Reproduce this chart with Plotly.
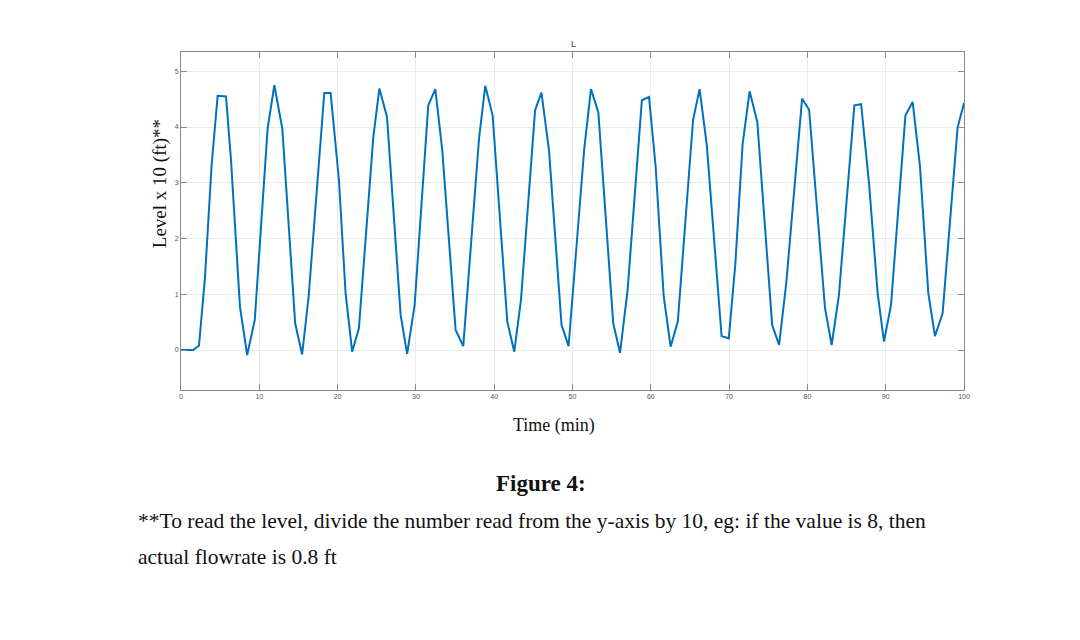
import plotly.graph_objects as go

# Data (time in min, level x 10 ft)
time_min = [0, 1.57, 2.30, 3.06, 3.91, 4.68, 5.75, 6.39, 7.53, 8.45, 9.42, 11.06, 11.92, 12.94,
            14.58, 15.47, 16.3, 18.3, 19.11, 20.17, 21.02, 21.86, 22.72, 24.56, 25.33, 26.31,
            28.05, 28.88, 29.84, 31.58, 32.48, 33.37, 35.07, 36.05, 38.06, 38.86, 39.8, 41.67,
            42.56, 43.42, 45.22, 46.03, 47.0, 48.6, 49.5, 51.5, 52.36, 53.3, 55.2, 56.07, 57.04,
            58.86, 59.77, 60.62, 61.65, 62.53, 63.45, 65.4, 66.23, 67.15, 69.04, 69.96, 70.8,
            71.73, 72.62, 73.6, 75.5, 76.38, 77.3, 79.32, 80.22, 82.25, 83.1, 84.02, 86.0, 86.86,
            87.87, 88.97, 89.78, 90.68, 92.52, 93.44, 94.38, 95.44, 96.29, 97.27, 99.18, 100.0]
level = [0, 0, 0.08, 1.3, 3.32, 4.56, 4.55, 3.4, 0.78, -0.09, 0.54, 3.97, 4.75, 3.97, 0.48,
         -0.08, 0.96, 4.61, 4.61, 3.05, 1.02, -0.03, 0.39, 3.82, 4.69, 4.18, 0.63, -0.07, 0.81,
         4.39, 4.68, 3.58, 0.36, 0.07, 3.79, 4.74, 4.21, 0.51, -0.03, 0.9, 4.3, 4.62, 3.58, 0.45,
         0.07, 3.61, 4.68, 4.26, 0.48, -0.05, 1.08, 4.48, 4.54, 3.29, 0.96, 0.06, 0.51, 4.13,
         4.68, 3.68, 0.25, 0.21, 1.55, 3.7, 4.64, 4.09, 0.45, 0.09, 1.2, 4.51, 4.31, 0.75, 0.09,
         0.98, 4.39, 4.41, 2.99, 1.02, 0.15, 0.81, 4.21, 4.45, 3.29, 1.02, 0.25, 0.66, 3.99, 4.43]

x_ticks = [0, 10, 20, 30, 40, 50, 60, 70, 80, 90, 100]
y_ticks = [0, 1, 2, 3, 4, 5]

x_title = "Time (min)"
y_title = "Level x 10 (ft)**"
caption_title = "Figure 4:"
caption_line1 = "**To read the level, divide the number read from the y-axis by 10, eg: if the value is 8, then"
caption_line2 = "actual flowrate is 0.8 ft"

fig = go.Figure()
fig.add_trace(go.Scatter(x=time_min, y=level, mode="lines",
                         line=dict(color="#0072BD", width=2), showlegend=False))

axis_common = dict(showline=True, linecolor="#8a8a8a", linewidth=1, mirror="allticks",
                   ticks="inside", ticklen=6, tickcolor="#8a8a8a",
                   showgrid=True, gridcolor="#ebebeb", gridwidth=1, zeroline=False,
                   tickfont=dict(family="Liberation Sans, Arial", size=7, color="#555555"))

fig.update_xaxes(range=[0, 100], tickvals=x_ticks, ticktext=[str(v) for v in x_ticks], **axis_common)
fig.update_yaxes(range=[-0.717, 5.346], tickvals=y_ticks, ticktext=[str(v) for v in y_ticks], **axis_common)

serif = "Liberation Serif, Times New Roman, serif"
W0, W1, T0, B0 = 181, 964, 51.7, 390
def px2paper(px, py):
    return (px - W0) / (W1 - W0), (B0 - py) / (B0 - T0)

ann = []
def add(text, px, py, size, family, xanchor="center", angle=0, color="#111111"):
    x, y = px2paper(px, py)
    ann.append(dict(text=text, x=x, y=y, xref="paper", yref="paper", showarrow=False,
                    xanchor=xanchor, yanchor="middle", textangle=angle,
                    font=dict(family=family, size=size, color=color)))

add("L", 573, 44, 9, "Liberation Sans", color="#444444")
add(y_title, 160, 184, 19, serif, angle=-90)
add(x_title, 554, 426, 18, serif)
add("<b>" + caption_title + "</b>", 541, 484, 23, serif)
add(caption_line1, 136, 521, 21.5, serif, xanchor="left")
add(caption_line2, 136, 557, 21.5, serif, xanchor="left")

fig.update_layout(width=1080, height=640, autosize=False,
                  margin=dict(l=W0, r=1080 - W1, t=T0, b=640 - B0),
                  paper_bgcolor="white", plot_bgcolor="white", annotations=ann)

fig.write_html("out.html")
